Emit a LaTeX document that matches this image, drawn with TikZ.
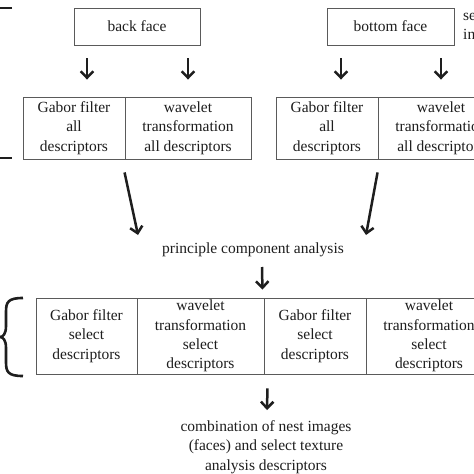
\documentclass[tikz,border=0pt]{standalone}
\usepackage{fontspec}
\setmainfont{Liberation Serif}
\usetikzlibrary{arrows.meta}
\definecolor{ink}{HTML}{1E1E1E}
\definecolor{boxline}{HTML}{5A5A5A}
\tikzset{
  cell/.style={draw=boxline, line width=0.9pt, inner sep=0pt, align=center, text=ink,
    font=\fontsize{15.5}{19.3}\selectfont},
  lbl/.style={inner sep=0pt, align=center, text=ink, font=\fontsize{15.5}{19.3}\selectfont},
  arr/.style={draw=ink, line width=2.5pt, -{Straight Barb[length=6.5pt,width=12.5pt,line width=2.5pt]}},
  brk/.style={draw=ink, line width=2.6pt},
}
\begin{document}
\begin{tikzpicture}[x=1pt,y=-1pt]
\useasboundingbox (0,0) rectangle (474,474);
\clip (0,0) rectangle (474,474);
\fill[white] (0,0) rectangle (474,474);
% top boxes
\node[cell, minimum width=126pt, minimum height=37pt] (bf) at (137,26.5) {back face};
\node[cell, minimum width=127pt, minimum height=37pt] (btf) at (390.5,26.5) {bottom face};
\node[lbl, align=left, anchor=north west] (side) at (463,13) {se\\in};
% middle row
\node[cell, minimum width=102pt, minimum height=62pt] (g1) at (74,128) {Gabor filter\\all\\descriptors};
\node[cell, minimum width=126pt, minimum height=62pt] (w1) at (188,128) {wavelet\\transformation\\all descriptors};
\node[cell, minimum width=102pt, minimum height=62pt] (g2) at (327,128) {Gabor filter\\all\\descriptors};
\node[cell, minimum width=126pt, minimum height=62pt] (w2) at (441,128) {wavelet\\transformation\\all descriptors};
% pca
\node[lbl] (pca) at (253,250) {principle component analysis};
% bottom row
\node[cell, minimum width=101pt, minimum height=76pt] (g3) at (86.5,336) {Gabor filter\\select\\descriptors};
\node[cell, minimum width=127pt, minimum height=76pt] (w3) at (200.5,336) {wavelet\\transformation\\select\\descriptors};
\node[cell, minimum width=102pt, minimum height=76pt] (g4) at (315,336) {Gabor filter\\select\\descriptors};
\node[cell, minimum width=126pt, minimum height=76pt] (w4) at (429,336) {wavelet\\transformation\\select\\descriptors};
% final
\node[lbl] (fin) at (266,447) {combination of nest images\\(faces) and select texture\\analysis descriptors};
% short arrows
\draw[arr] ([xshift=-50pt,yshift=-13pt]bf.south) -- ([xshift=13pt,yshift=17pt]g1.north);
\draw[arr] ([xshift=51pt,yshift=-13pt]bf.south) -- ([xshift=0pt,yshift=17pt]w1.north);
\draw[arr] ([xshift=-49.5pt,yshift=-13pt]btf.south) -- ([xshift=14pt,yshift=17pt]g2.north);
\draw[arr] ([xshift=50.5pt,yshift=-13pt]btf.south) -- ([xshift=0pt,yshift=17pt]w2.north);
% long arrows
\draw[arr] ([yshift=-13pt]w1.south west) -- ([xshift=-115pt,yshift=15pt]pca.center);
\draw[arr] ([yshift=-13pt]w2.south west) -- ([xshift=113pt,yshift=15pt]pca.center);
\draw[arr] ([xshift=9pt,yshift=-17pt]pca.center) -- ([xshift=-2pt,yshift=8pt]w3.north east);
\draw[arr] ([xshift=3pt,yshift=-14pt]w3.south east) -- ([xshift=1pt,yshift=37pt]fin.center);
% brackets
\draw[brk] (12,8) -- (-6,8) -- (-6,158) -- (12,158);
\draw[brk] (23,298) .. controls (8,298) and (6,302) .. (6,312) -- (6,326)
  .. controls (6,334) and (3,337) .. (0,337)
  .. controls (3,337) and (6,340) .. (6,348) -- (6,362)
  .. controls (6,372) and (8,376) .. (23,376);
\end{tikzpicture}
\end{document}
